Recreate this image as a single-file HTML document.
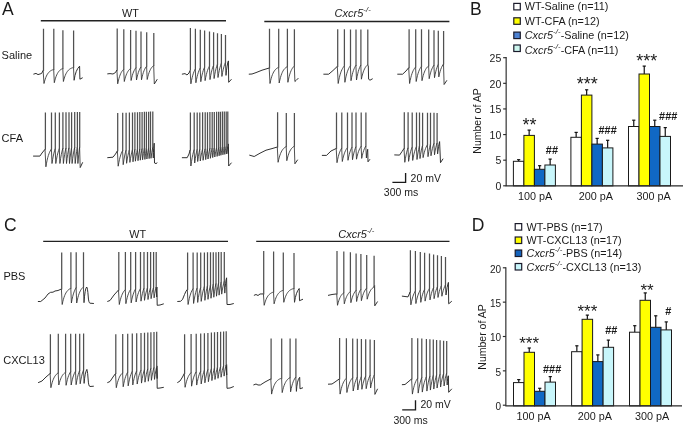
<!DOCTYPE html>
<html>
<head>
<meta charset="utf-8">
<style>
html,body{margin:0;padding:0;background:#fff;}
body{width:685px;height:426px;overflow:hidden;}
svg{display:block;}
text{font-family:"Liberation Sans",Arial,sans-serif;fill:#1a1a1a;}
.t{font-size:10.5px;}
.l{font-size:11px;}
.lg2{font-size:10.8px;}
.xl{font-size:10.8px;}
.hs{font-size:10.5px;font-weight:bold;}
.big{font-size:17.5px;}
.it{font-style:italic;}
.sup{font-size:7.6px;font-style:italic;letter-spacing:0.15px;}
.ast{font-size:18px;}
.tr path{fill:none;stroke:#262626;stroke-width:0.95;stroke-linejoin:round;stroke-linecap:butt;}
.tr path.md{stroke:#303030;stroke-width:0.85;}
.tr path.sp{stroke:#505050;stroke-width:1.25;}
.hl{stroke:#222;stroke-width:1.35;}
.sb{stroke:#1a1a1a;stroke-width:1.35;fill:none;}
.ax{stroke:#2a2a2a;stroke-width:1.15;fill:none;}
.eb{stroke:#111;stroke-width:1.2;}
.bar{stroke:#1a1a1a;stroke-width:1;}
.lg{stroke:#1a1a2a;stroke-width:1.2;}
</style>
</head>
<body>
<svg width="685" height="426" viewBox="0 0 685 426">
<!-- Panel A -->
<text x="2" y="14.8" class="big">A</text>
<text x="130.5" y="16.8" class="lg2" text-anchor="middle">WT</text>
<line x1="40.8" y1="20.75" x2="226" y2="20.75" class="hl"/>
<text x="334.6" y="16.9" class="l"><tspan class="it">Cxcr5</tspan><tspan class="sup" dy="-5">-/-</tspan></text>
<line x1="264.3" y1="21.45" x2="449.4" y2="21.45" class="hl"/>
<text x="1.6" y="59" class="l">Saline</text>
<text x="1.6" y="141.8" class="l">CFA</text>
<path d="M392.4,182.4 L405.6,182.4 L405.6,173" class="sb"/>
<text x="410.6" y="181.6" class="t">20 mV</text>
<text x="383.8" y="195.8" class="t">300 ms</text>

<!-- Panel C -->
<text x="4" y="231.3" class="big">C</text>
<text x="137.6" y="237.5" class="lg2" text-anchor="middle">WT</text>
<line x1="43.2" y1="241.35" x2="228" y2="241.35" class="hl"/>
<text x="338.2" y="237.7" class="l"><tspan class="it">Cxcr5</tspan><tspan class="sup" dy="-5">-/-</tspan></text>
<line x1="256.2" y1="241.35" x2="449.5" y2="241.35" class="hl"/>
<text x="3.4" y="279.6" class="l">PBS</text>
<text x="3.2" y="363.7" class="l">CXCL13</text>
<path d="M402.2,409.8 L415.5,409.8 L415.5,400.3" class="sb"/>
<text x="420.4" y="408" class="t">20 mV</text>
<text x="393.4" y="423.8" class="t">300 ms</text>

<g class="tr">
<path d="M33.4,74.2 L36,73.4 L38,74.6 L41.5,73.5 L43.1,70.5 M74.1,80.3 Q75.5,70 79.6,66.2 L79.9,79.2 L82.7,77.7"/><path class="md" d="M43.1,70.5 L44,83.5 L44.61,81.12 L45.21,79.13 L45.82,77.45 L46.42,76.03 L47.03,74.85 L47.64,73.85 L48.24,73.01 L48.85,72.3 L49.46,71.71 L50.06,71.21 L50.67,70.79 L51.28,70.43 L51.88,70.14 L52.49,69.89 L53.09,69.68 L53.7,69.5 L54.3,82.7 L54.91,80.22 L55.51,78.13 L56.12,76.38 L56.73,74.91 L57.34,73.67 L57.94,72.63 L58.55,71.75 L59.16,71.01 L59.76,70.4 L60.37,69.87 L60.98,69.44 L61.59,69.07 L62.19,68.76 L62.8,68.5 L63.4,81.5 L64.03,79.05 L64.66,77.01 L65.29,75.3 L65.92,73.88 L66.56,72.69 L67.19,71.7 L67.82,70.87 L68.45,70.18 L69.08,69.6 L69.71,69.11 L70.34,68.71 L70.97,68.38 L71.61,68.09 L72.24,67.86 L72.87,67.66 L73.5,67.5 L74.1,80.3"/><path class="sp" d="M43.5,71 L43.5,28.8 M53.8,70 L53.8,28.8 M62.9,69 L62.9,30.3 M73.6,68 L73.6,30.6"/>
<path d="M107.3,73.9 L110,73.6 L113,74 L115.5,72.5 L116.9,70 M154.3,84 L157.3,79.2"/><path class="md" d="M116.9,70 L117.7,83.8 L118.3,81 L118.9,78.65 L119.5,76.66 L120.1,74.99 L120.7,73.58 L121.3,72.4 L121.9,71.4 L122.5,70.56 L123.1,69.85 L123.7,69.25 L124.3,81.5 L124.92,78.96 L125.54,76.83 L126.16,75.04 L126.78,73.55 L127.4,72.3 L128.02,71.25 L128.64,70.37 L129.26,69.63 L129.88,69.02 L130.5,68.5 L131.1,80.5 L131.7,77.81 L132.3,75.54 L132.9,73.63 L133.5,72.02 L134.1,70.67 L134.7,69.52 L135.3,68.56 L135.9,67.75 L136.5,80 L137.13,77.01 L137.76,74.52 L138.39,72.43 L139.01,70.69 L139.64,69.23 L140.27,68.02 L140.9,67 L141.5,79.8 L142.14,76.86 L142.78,74.41 L143.41,72.36 L144.05,70.66 L144.69,69.24 L145.32,68.06 L145.96,67.07 L146.6,66.25 L147.2,79.5 L147.85,76.69 L148.5,74.35 L149.15,72.41 L149.8,70.8 L150.45,69.47 L151.1,68.35 L151.75,67.43 L152.4,66.66 L153.05,66.03 L153.7,65.5 L154.3,84"/><path class="sp" d="M117.2,70.5 L117.2,28.4 M123.8,69.75 L123.8,29.17 M130.6,69 L130.6,29.93 M136,68.25 L136,30.7 M141,67.5 L141,31.47 M146.7,66.75 L146.7,32.23 M153.8,66 L153.8,33"/>
<path d="M181.9,74.2 L185,73.6 L187,75 L189,73 L190.1,70.5 M226,75.4 Q227,64 228.4,60.9 L228.7,82.3 L231.5,79.2"/><path class="md" d="M190.1,70.5 L190.9,83.8 L191.53,80.41 L192.16,77.58 L192.79,75.22 L193.41,73.25 L194.04,71.59 L194.67,70.22 L195.3,69.06 L195.9,82.75 L196.51,79.42 L197.13,76.63 L197.74,74.29 L198.36,72.32 L198.97,70.67 L199.59,69.29 L200.2,68.12 L200.8,81.7 L201.42,78.11 L202.03,75.1 L202.65,72.57 L203.27,70.45 L203.88,68.68 L204.5,67.19 L205.1,80.65 L205.71,77.37 L206.33,74.62 L206.94,72.32 L207.56,70.38 L208.17,68.76 L208.79,67.39 L209.4,66.25 L210,79.6 L210.7,75.5 L211.4,72.15 L212.1,69.4 L212.8,67.15 L213.5,65.31 L214.1,78.55 L214.76,74.56 L215.42,71.25 L216.08,68.52 L216.74,66.25 L217.4,64.38 L218,77.5 L218.66,73.54 L219.32,70.26 L219.98,67.55 L220.64,65.3 L221.3,63.44 L221.9,76.45 L222.6,72.45 L223.3,69.17 L224,66.49 L224.7,64.3 L225.4,62.5 L226,75.4"/><path class="sp" d="M190.4,70.5 L190.4,28 M195.4,69.56 L195.4,28.86 M200.3,68.62 L200.3,29.73 M204.6,67.69 L204.6,30.59 M209.5,66.75 L209.5,31.45 M213.6,65.81 L213.6,32.31 M217.5,64.88 L217.5,33.17 M221.4,63.94 L221.4,34.04 M225.5,63 L225.5,34.9"/>
<path d="M248.8,74.2 L252,74 L256,72.6 L262,70.2 L269.2,68 M294.9,81.5 L296,80.5 L298.4,78.1"/><path class="md" d="M269.2,68 L270,83.5 L270.61,80.65 L271.23,78.27 L271.84,76.26 L272.46,74.58 L273.07,73.17 L273.69,71.99 L274.3,70.99 L274.91,70.16 L275.53,69.46 L276.14,68.88 L276.76,68.38 L277.37,67.97 L277.99,67.62 L278.6,67.33 L279.2,83 L279.82,80.04 L280.45,77.57 L281.07,75.5 L281.69,73.77 L282.32,72.32 L282.94,71.1 L283.56,70.09 L284.18,69.24 L284.81,68.53 L285.43,67.93 L286.05,67.43 L286.68,67.02 L287.3,66.67 L287.9,82.3 L288.54,79.05 L289.18,76.35 L289.82,74.1 L290.46,72.23 L291.1,70.66 L291.74,69.36 L292.38,68.28 L293.02,67.38 L293.66,66.63 L294.3,66 L294.9,81.5"/><path class="sp" d="M269.5,68.5 L269.5,28.8 M278.7,67.83 L278.7,28.8 M287.4,67.17 L287.4,28.8 M294.4,66.5 L294.4,29.3"/>
<path d="M323.4,74.2 L328.7,74.2 L333,70.5 L337.3,66.4 M368.3,66 L368.6,79.2 L370,80.2 L372.7,78.7"/><path class="md" d="M337.3,66.4 L338.2,83.5 L338.81,80.12 L339.42,77.28 L340.03,74.89 L340.64,72.89 L341.25,71.2 L341.86,69.79 L342.47,68.6 L343.08,67.6 L343.69,66.76 L344.3,66.06 L344.9,82.3 L345.51,78.95 L346.12,76.13 L346.73,73.77 L347.34,71.78 L347.96,70.11 L348.57,68.71 L349.18,67.54 L349.79,66.55 L350.4,65.72 L351,80.7 L351.61,77.44 L352.23,74.7 L352.84,72.39 L353.45,70.46 L354.06,68.84 L354.67,67.48 L355.29,66.34 L355.9,65.38 L356.5,80 L357.11,76.6 L357.73,73.74 L358.34,71.34 L358.96,69.33 L359.57,67.64 L360.19,66.23 L360.8,65.04 L361.4,79.2 L362.03,76.34 L362.66,73.95 L363.29,71.95 L363.92,70.28 L364.55,68.89 L365.18,67.73 L365.81,66.76 L366.44,65.94 L367.07,65.27 L367.7,64.7 L368.3,66"/><path class="sp" d="M337.7,66.9 L337.7,29.3 M344.4,66.56 L344.4,29.36 M350.5,66.22 L350.5,29.42 M356,65.88 L356,29.48 M360.9,65.54 L360.9,29.54 M367.8,65.2 L367.8,29.6"/>
<path d="M397.3,74.2 L402.6,74.2 L406,71 L408.7,67.7 M444.1,84.5 L446.9,80.3"/><path class="md" d="M408.7,67.7 L409.6,83.5 L410.2,80.35 L410.8,77.69 L411.4,75.45 L412,73.56 L412.6,71.97 L413.2,70.64 L413.8,69.51 L414.4,68.56 L415,67.76 L415.6,67.08 L416.2,81.5 L416.85,78.21 L417.5,75.47 L418.15,73.2 L418.8,71.31 L419.45,69.75 L420.1,68.44 L420.75,67.36 L421.4,66.47 L422,80.7 L422.6,77.94 L423.2,75.62 L423.8,73.66 L424.4,72.01 L425,70.62 L425.6,69.45 L426.2,68.47 L426.8,67.64 L427.4,66.94 L428,66.35 L428.6,65.85 L429.2,78.7 L429.87,75.52 L430.54,72.89 L431.21,70.72 L431.89,68.94 L432.56,67.46 L433.23,66.24 L433.9,65.23 L434.5,77.7 L435.12,74.46 L435.73,71.75 L436.35,69.47 L436.97,67.56 L437.58,65.96 L438.2,64.62 L438.8,76.9 L439.47,73.85 L440.14,71.34 L440.81,69.26 L441.49,67.55 L442.16,66.13 L442.83,64.96 L443.5,64 L444.1,84.5"/><path class="sp" d="M409.1,68.2 L409.1,29.3 M415.7,67.58 L415.7,29.3 M421.5,66.97 L421.5,29.3 M428.7,66.35 L428.7,29.6 M434,65.73 L434,30.3 M438.3,65.12 L438.3,30.8 M443.6,64.5 L443.6,31.1"/>
<path d="M33.1,156.1 L39.9,156.1 L42,153 L45,149.3 M80.2,167.6 L82.7,162.3"/><path class="md" d="M45,149.3 L45.9,166.8 L46.51,163.21 L47.12,160.2 L47.73,157.68 L48.34,155.55 L48.96,153.77 L49.57,152.27 L50.18,151.01 L50.79,149.96 L51.4,149.07 L52,163.5 L52.64,159.41 L53.28,156.01 L53.92,153.17 L54.56,150.81 L55.2,148.84 L55.8,163.5 L56.5,159.23 L57.2,155.73 L57.9,152.87 L58.6,150.53 L59.3,148.61 L59.9,163.5 L60.62,158.48 L61.35,154.4 L62.07,151.08 L62.8,148.38 L63.4,163.5 L64.03,158.58 L64.65,154.47 L65.28,151.03 L65.9,148.15 L66.5,163.5 L67.1,158.55 L67.7,154.39 L68.3,150.88 L68.9,147.92 L69.5,163.5 L70.17,157.2 L70.83,151.99 L71.5,147.69 L72.1,163.5 L72.72,158.36 L73.35,154.06 L73.97,150.47 L74.6,147.46 L75.2,163.5 L75.9,156.96 L76.6,151.61 L77.3,147.23 L77.9,163.5 L78.75,154.25 L79.6,147 L80.2,167.6"/><path class="sp" d="M45.4,149.8 L45.4,112.6 M51.5,149.57 L51.5,112.54 M55.3,149.34 L55.3,112.48 M59.4,149.11 L59.4,112.42 M62.9,148.88 L62.9,112.36 M66,148.65 L66,112.3 M69,148.42 L69,112.24 M71.6,148.19 L71.6,112.18 M74.7,147.96 L74.7,112.12 M77.4,147.73 L77.4,112.06 M79.7,147.5 L79.7,112"/>
<path d="M107.3,157.7 L113,157.2 L115.5,154 L117.4,150.8 M153.3,158 Q153.6,146 154.2,143.2 L154.5,163 L156,163.6 L157.3,162.7"/><path class="md" d="M117.4,150.8 L118.2,166.2 L118.83,162.6 L119.46,159.6 L120.09,157.09 L120.71,154.99 L121.34,153.24 L121.97,151.77 L122.6,150.55 L123.2,164.7 L123.9,159.96 L124.6,156.07 L125.3,152.9 L126,150.29 L126.6,163.3 L127.28,158.97 L127.95,155.41 L128.62,152.46 L129.3,150.04 L129.9,162.4 L130.53,158.36 L131.15,154.98 L131.78,152.15 L132.4,149.78 L133,161.8 L133.6,156.99 L134.2,152.94 L134.8,149.53 L135.4,161.2 L136.07,156.45 L136.73,152.52 L137.4,149.28 L138,160.7 L138.85,154.16 L139.7,149.02 L140.3,160.2 L141.15,153.79 L142,148.77 L142.6,159.8 L143.45,153.48 L144.3,148.52 L144.9,159.4 L145.6,153.28 L146.3,148.26 L146.9,159 L147.7,152.88 L148.5,148.01 L149.1,158.6 L149.75,152.67 L150.4,147.75 L151,158.3 L151.85,152.25 L152.7,147.5 L153.3,158"/><path class="sp" d="M117.7,151.3 L117.7,112.9 M122.7,151.05 L122.7,112.78 M126.1,150.79 L126.1,112.67 M129.4,150.54 L129.4,112.55 M132.5,150.28 L132.5,112.44 M134.9,150.03 L134.9,112.32 M137.5,149.78 L137.5,112.21 M139.8,149.52 L139.8,112.09 M142.1,149.27 L142.1,111.98 M144.4,149.02 L144.4,111.86 M146.4,148.76 L146.4,111.75 M148.6,148.51 L148.6,111.63 M150.5,148.25 L150.5,111.52 M152.8,148 L152.8,111.4"/>
<path d="M181.9,157.7 L187.2,157.7 L189,154 L190.1,150 M228.3,153.6 Q228.1,146 228.4,143.9 L228.7,166 L231.5,162.7"/><path class="md" d="M190.1,150 L190.9,166 L191.54,161.48 L192.18,157.71 L192.82,154.57 L193.46,151.96 L194.1,149.78 L194.7,163 L195.3,158.73 L195.9,155.14 L196.5,152.11 L197.1,149.56 L197.7,161.5 L198.37,156.66 L199.03,152.65 L199.7,149.34 L200.3,161 L201.03,156.19 L201.77,152.29 L202.5,149.12 L203.1,160.3 L203.77,155.76 L204.43,152.01 L205.1,148.91 L205.7,159.6 L206.55,153.48 L207.4,148.69 L208,159 L208.6,154.87 L209.2,151.4 L209.8,148.47 L210.4,158.3 L211.25,152.67 L212.1,148.25 L212.7,157.6 L213.45,152.3 L214.2,148.03 L214.8,157 L215.65,151.85 L216.5,147.81 L217.1,156.4 L217.8,151.56 L218.5,147.59 L219.1,155.8 L219.7,151.23 L220.3,147.38 L220.9,155.3 L221.6,150.82 L222.3,147.16 L222.9,154.8 L223.55,150.5 L224.2,146.94 L224.8,154.4 L225.45,150.2 L226.1,146.72 L226.7,154 L227.2,149.98 L227.7,146.5 L228.3,153.6"/><path class="sp" d="M190.4,150.5 L190.4,112.6 M194.2,150.28 L194.2,112.52 M197.2,150.06 L197.2,112.45 M199.8,149.84 L199.8,112.38 M202.6,149.62 L202.6,112.3 M205.2,149.41 L205.2,112.22 M207.5,149.19 L207.5,112.15 M209.9,148.97 L209.9,112.08 M212.2,148.75 L212.2,112 M214.3,148.53 L214.3,111.92 M216.6,148.31 L216.6,111.85 M218.6,148.09 L218.6,111.78 M220.4,147.88 L220.4,111.7 M222.4,147.66 L222.4,111.62 M224.3,147.44 L224.3,111.55 M226.2,147.22 L226.2,111.48 M227.8,147 L227.8,111.4"/>
<path d="M249.3,155.1 L254.2,156.5 L260,153.2 L266,150.2 L272,148.6 L277.3,147 M294.9,163.8 L297.7,159.7"/><path class="md" d="M277.3,147 L278.1,162.3 L278.72,159.46 L279.35,157.08 L279.97,155.09 L280.59,153.43 L281.22,152.03 L281.84,150.87 L282.46,149.89 L283.08,149.07 L283.71,148.39 L284.33,147.82 L284.95,147.34 L285.58,146.94 L286.2,146.6 L286.8,160.7 L287.43,158.01 L288.05,155.77 L288.68,153.89 L289.3,152.31 L289.93,151 L290.55,149.9 L291.18,148.98 L291.8,148.21 L292.43,147.57 L293.05,147.03 L293.68,146.58 L294.3,146.2 L294.9,163.8"/><path class="sp" d="M277.6,147.5 L277.6,112.3 M286.3,147.1 L286.3,112.9 M294.4,146.7 L294.4,112.9"/>
<path d="M321.9,155.4 L326.5,155.4 L331,151 L336.2,148.5 M366.4,158 Q367,151 367.7,149.3 L368,161.8 L370,159.2"/><path class="md" d="M336.2,148.5 L337,162.7 L337.67,159.25 L338.34,156.4 L339.01,154.04 L339.69,152.1 L340.36,150.5 L341.03,149.18 L341.7,148.08 L342.3,161.5 L342.94,158.5 L343.57,155.99 L344.21,153.91 L344.85,152.17 L345.49,150.72 L346.12,149.51 L346.76,148.51 L347.4,147.67 L348,160.3 L348.65,157.01 L349.3,154.27 L349.95,152 L350.6,150.12 L351.25,148.55 L351.9,147.25 L352.5,159.7 L353.18,156.04 L353.86,153.03 L354.54,150.56 L355.22,148.51 L355.9,146.83 L356.5,159.2 L357.16,156.21 L357.81,153.73 L358.47,151.67 L359.13,149.97 L359.79,148.56 L360.44,147.39 L361.1,146.42 L361.7,158.4 L362.38,155.21 L363.07,152.59 L363.75,150.43 L364.43,148.66 L365.12,147.2 L365.8,146 L366.4,158"/><path class="sp" d="M336.5,149 L336.5,112.6 M341.8,148.58 L341.8,112.6 M347.5,148.17 L347.5,112.6 M352,147.75 L352,112.6 M356,147.33 L356,112.6 M361.2,146.92 L361.2,112.6 M365.9,146.5 L365.9,112.6"/>
<path d="M394.3,154.9 L399.6,155.1 L402,151.5 L404,148.5 M437.6,153.9 Q438.5,145 439.6,141.6 L440.5,162.7 L443.1,158.7"/><path class="md" d="M404,148.5 L404.8,162.3 L405.44,158.28 L406.08,154.93 L406.72,152.15 L407.36,149.82 L408,147.89 L408.6,161.37 L409.3,157.33 L410,154.02 L410.7,151.31 L411.4,149.09 L412.1,147.28 L412.7,160.43 L413.32,157.03 L413.93,154.17 L414.55,151.77 L415.17,149.76 L415.78,148.08 L416.4,146.67 L417,159.5 L417.8,153.96 L418.6,149.56 L419.4,146.06 L420,158.57 L420.62,154.36 L421.25,150.85 L421.88,147.9 L422.5,145.44 L423.1,157.63 L423.71,154.72 L424.33,152.28 L424.94,150.23 L425.56,148.5 L426.17,147.06 L426.79,145.85 L427.4,144.83 L428,156.7 L428.8,151.56 L429.6,147.47 L430.4,144.22 L431,155.77 L431.73,151.73 L432.45,148.45 L433.17,145.78 L433.9,143.61 L434.5,154.83 L435.12,151.04 L435.75,147.87 L436.38,145.22 L437,143 L437.6,153.9"/><path class="sp" d="M404.3,149 L404.3,112.3 M408.1,148.39 L408.1,112.37 M412.2,147.78 L412.2,112.43 M416.5,147.17 L416.5,112.5 M419.5,146.56 L419.5,112.57 M422.6,145.94 L422.6,112.63 M427.5,145.33 L427.5,112.7 M430.5,144.72 L430.5,112.77 M434,144.11 L434,112.83 M437.1,143.5 L437.1,112.9"/>
<path d="M37.9,301.5 L40.7,301.5 L45,298 L48,294 L50.6,292.3 L53,292.2 L55,291 L58,290.5 L61.4,289 M84,302.7 Q85,288 86.7,287 Q87.6,288 88.2,296 Q88.6,303 90,303.2 L93.9,303.5"/><path class="md" d="M61.4,289 L62.2,304.5 L62.81,301.65 L63.43,299.27 L64.04,297.26 L64.66,295.58 L65.27,294.17 L65.89,292.99 L66.5,291.99 L67.11,291.16 L67.73,290.46 L68.34,289.88 L68.96,289.38 L69.57,288.97 L70.19,288.62 L70.8,288.33 L71.4,303 L72.07,299.38 L72.74,296.39 L73.41,293.92 L74.09,291.88 L74.76,290.2 L75.43,288.81 L76.1,287.67 L76.7,303 L77.31,300 L77.92,297.48 L78.53,295.37 L79.14,293.59 L79.75,292.09 L80.35,290.84 L80.96,289.78 L81.57,288.9 L82.18,288.15 L82.79,287.53 L83.4,287 L84,302.7"/><path class="sp" d="M61.7,289.5 L61.7,252.6 M70.9,288.83 L70.9,252.3 M76.2,288.17 L76.2,252.3 M83.5,287.5 L83.5,252.3"/>
<path d="M107.3,301.5 L110,300.5 L114,295 L118.5,290 M156.7,297 Q156.5,289 156.9,287 L157.2,305.3 L160,305 L163.8,303.8"/><path class="md" d="M118.5,290 L119.3,304.5 L119.9,301.65 L120.5,299.25 L121.1,297.23 L121.7,295.52 L122.3,294.09 L122.9,292.88 L123.5,291.86 L124.1,291 L124.7,290.28 L125.3,289.67 L125.9,303.67 L126.57,300.28 L127.24,297.49 L127.91,295.18 L128.59,293.27 L129.26,291.7 L129.93,290.4 L130.6,289.33 L131.2,302.83 L131.81,299.69 L132.43,297.04 L133.04,294.83 L133.66,292.97 L134.27,291.41 L134.89,290.1 L135.5,289 L136.1,302 L136.71,298.97 L137.33,296.42 L137.94,294.28 L138.56,292.49 L139.17,290.99 L139.79,289.73 L140.4,288.67 L141,301.17 L141.72,296.9 L142.45,293.44 L143.18,290.62 L143.9,288.33 L144.5,300.33 L145.22,296.24 L145.95,292.91 L146.68,290.2 L147.4,288 L148,299.5 L148.62,295.71 L149.25,292.54 L149.88,289.89 L150.5,287.67 L151.1,298.67 L151.7,295.07 L152.3,292.04 L152.9,289.48 L153.5,287.33 L154.1,297.83 L154.77,293.52 L155.43,289.95 L156.1,287 L156.7,297"/><path class="sp" d="M118.8,290.5 L118.8,252 M125.4,290.17 L125.4,252 M130.7,289.83 L130.7,252 M135.6,289.5 L135.6,252 M140.5,289.17 L140.5,252 M144,288.83 L144,252 M147.5,288.5 L147.5,252 M150.6,288.17 L150.6,252 M153.6,287.83 L153.6,252 M156.2,287.5 L156.2,252"/>
<path d="M177.3,301.5 L180.5,301.3 L182.5,299.5 L184.5,294.5 L186,291.2 L187.3,289.5 M224.8,293.1 Q225.5,281 226.6,277.8 L227,304.5 L230,304.5 L233.8,303.5"/><path class="md" d="M187.3,289.5 L188.1,304.5 L188.71,301.15 L189.32,298.34 L189.94,295.97 L190.55,293.99 L191.16,292.33 L191.78,290.93 L192.39,289.76 L193,288.77 L193.6,303.46 L194.3,299.04 L195,295.42 L195.7,292.46 L196.4,290.03 L197.1,288.05 L197.7,302.43 L198.42,297.41 L199.15,293.33 L199.88,290.01 L200.6,287.32 L201.2,301.39 L201.82,297.3 L202.44,293.88 L203.06,291.01 L203.68,288.6 L204.3,286.59 L204.9,300.35 L205.53,295.71 L206.15,291.83 L206.78,288.58 L207.4,285.86 L208,299.32 L208.6,294.82 L209.2,291.02 L209.8,287.83 L210.4,285.14 L211,298.28 L211.73,292.66 L212.47,288.1 L213.2,284.41 L213.8,297.25 L214.5,291.8 L215.2,287.33 L215.9,283.68 L216.5,296.21 L217.17,290.93 L217.83,286.56 L218.5,282.95 L219.1,295.17 L219.77,290.01 L220.43,285.75 L221.1,282.23 L221.7,294.14 L222.32,290.09 L222.95,286.7 L223.57,283.87 L224.2,281.5 L224.8,293.1"/><path class="sp" d="M187.6,290 L187.6,252.6 M193.1,289.27 L193.1,252.55 M197.2,288.55 L197.2,252.49 M200.7,287.82 L200.7,252.44 M204.4,287.09 L204.4,252.38 M207.5,286.36 L207.5,252.33 M210.5,285.64 L210.5,252.27 M213.3,284.91 L213.3,252.22 M216,284.18 L216,252.16 M218.6,283.45 L218.6,252.11 M221.2,282.73 L221.2,252.05 M224.3,282 L224.3,252"/>
<path d="M253.9,295.4 L256,294.5 L258,295.5 L260,294 L263.4,293.9 M294.5,302.3 Q296,292 299.2,288.5 L299.5,300.7 L303,299.2"/><path class="md" d="M263.4,293.9 L264.2,305.3 L264.82,303 L265.44,301.07 L266.06,299.45 L266.68,298.09 L267.3,296.96 L267.92,296.01 L268.54,295.21 L269.16,294.55 L269.78,293.99 L270.4,293.52 L271.02,293.13 L271.64,292.8 L272.26,292.52 L272.88,292.29 L273.5,292.1 L274.1,303.8 L274.71,301.48 L275.31,299.53 L275.92,297.89 L276.53,296.51 L277.13,295.35 L277.74,294.37 L278.35,293.55 L278.95,292.86 L279.56,292.28 L280.17,291.79 L280.77,291.38 L281.38,291.04 L281.99,290.75 L282.59,290.5 L283.2,290.3 L283.8,302.3 L284.43,299.89 L285.06,297.87 L285.69,296.19 L286.32,294.79 L286.96,293.62 L287.59,292.64 L288.22,291.82 L288.85,291.14 L289.48,290.57 L290.11,290.09 L290.74,289.69 L291.38,289.36 L292.01,289.09 L292.64,288.85 L293.27,288.66 L293.9,288.5 L294.5,302.3"/><path class="sp" d="M263.7,294.4 L263.7,251.1 M273.6,292.6 L273.6,251.4 M283.3,290.8 L283.3,252.6 M294,289 L294,252.9"/>
<path d="M328,295.4 L332,294.5 L336.7,293.9 M374.6,285.5 L374.8,305.8 L377.6,301.5"/><path class="md" d="M336.7,293.9 L337.5,305.3 L338.12,302.85 L338.74,300.79 L339.36,299.07 L339.98,297.62 L340.6,296.41 L341.22,295.4 L341.84,294.55 L342.46,293.84 L343.08,293.25 L343.7,292.75 L344.3,303.8 L344.9,301.46 L345.5,299.48 L346.1,297.82 L346.7,296.42 L347.3,295.23 L347.9,294.24 L348.5,293.4 L349.1,292.7 L349.7,292.1 L350.3,291.6 L350.9,302.7 L351.54,300.04 L352.18,297.82 L352.81,295.98 L353.45,294.44 L354.09,293.15 L354.73,292.08 L355.36,291.19 L356,290.45 L356.6,301.5 L357.3,298.34 L358,295.74 L358.7,293.62 L359.4,291.89 L360.1,290.46 L360.8,289.3 L361.4,300.7 L362.05,297.95 L362.7,295.67 L363.35,293.77 L364,292.2 L364.65,290.89 L365.3,289.8 L365.95,288.9 L366.6,288.15 L367.2,299.2 L367.82,296.89 L368.44,294.96 L369.05,293.34 L369.67,291.99 L370.29,290.85 L370.91,289.89 L371.53,289.1 L372.15,288.43 L372.76,287.86 L373.38,287.39 L374,287 L374.6,285.5"/><path class="sp" d="M337,294.4 L337,251.1 M343.8,293.25 L343.8,251.4 M350.4,292.1 L350.4,252.3 M356.1,290.95 L356.1,253.4 M360.9,289.8 L360.9,253.9 M366.7,288.65 L366.7,254.9 M374.1,287.5 L374.1,255.7"/>
<path d="M401.9,296.1 L408,296.9 L410.1,292 M446,295 Q447,286 448.4,282.4 L448.7,303.8 L451.8,301.2"/><path class="md" d="M410.1,292 L410.9,304.8 L411.53,301.66 L412.16,299.03 L412.79,296.84 L413.41,295.01 L414.04,293.47 L414.67,292.19 L415.3,291.12 L415.9,303.57 L416.51,300.54 L417.13,298 L417.74,295.86 L418.36,294.07 L418.97,292.57 L419.59,291.31 L420.2,290.25 L420.8,302.35 L421.42,299.14 L422.03,296.44 L422.65,294.19 L423.27,292.29 L423.88,290.71 L424.5,289.38 L425.1,301.12 L425.71,298.25 L426.33,295.84 L426.94,293.82 L427.56,292.12 L428.17,290.7 L428.79,289.5 L429.4,288.5 L430,299.9 L430.7,296.38 L431.4,293.5 L432.1,291.14 L432.8,289.21 L433.5,287.62 L434.1,298.68 L434.76,295.32 L435.42,292.54 L436.08,290.24 L436.74,288.33 L437.4,286.75 L438,297.45 L438.66,294.19 L439.32,291.49 L439.98,289.26 L440.64,287.41 L441.3,285.88 L441.9,296.23 L442.6,293.01 L443.3,290.37 L444,288.21 L444.7,286.45 L445.4,285 L446,295"/><path class="sp" d="M410.4,292.5 L410.4,250.3 M415.4,291.62 L415.4,251.12 M420.3,290.75 L420.3,251.95 M424.6,289.88 L424.6,252.78 M429.5,289 L429.5,253.6 M433.6,288.12 L433.6,254.42 M437.5,287.25 L437.5,255.25 M441.4,286.38 L441.4,256.07 M445.5,285.5 L445.5,256.9"/>
<path d="M38.1,382.7 L42,381 L46,377 L50.1,373.5 M84.1,383.4 Q85,372 86.9,369.4 Q87.7,372 88.2,380 Q88.6,386.5 90,386.5 L93.8,386.2"/><path class="md" d="M50.1,373.5 L50.9,387.7 L51.51,385.01 L52.12,382.74 L52.73,380.84 L53.33,379.24 L53.94,377.9 L54.55,376.77 L55.16,375.82 L55.77,375.02 L56.38,374.35 L56.98,373.79 L57.59,373.31 L58.2,372.92 L58.8,385 L59.41,382.63 L60.02,380.63 L60.63,378.96 L61.24,377.55 L61.85,376.37 L62.45,375.37 L63.06,374.54 L63.67,373.84 L64.28,373.25 L64.89,372.75 L65.5,372.33 L66.1,385.3 L66.74,382.16 L67.39,379.54 L68.03,377.37 L68.67,375.56 L69.31,374.05 L69.96,372.79 L70.6,371.75 L71.2,385 L71.81,381.85 L72.43,379.21 L73.04,376.99 L73.66,375.13 L74.27,373.57 L74.89,372.27 L75.5,371.17 L76.1,384.7 L76.8,380.65 L77.5,377.34 L78.2,374.62 L78.9,372.4 L79.6,370.58 L80.2,383.8 L80.86,379.92 L81.52,376.7 L82.18,374.03 L82.84,371.83 L83.5,370 L84.1,383.4"/><path class="sp" d="M50.4,374 L50.4,334.3 M58.3,373.42 L58.3,333.8 M65.6,372.83 L65.6,333.8 M70.7,372.25 L70.7,333.8 M75.6,371.67 L75.6,333.8 M79.7,371.08 L79.7,333.8 M83.6,370.5 L83.6,333.4"/>
<path d="M107.3,382.7 L110,381.5 L113,377 L115.5,373.5 M157.2,378.5 L156.9,365.9 L157.2,388.3 L160,388 L163.8,387.3"/><path class="md" d="M115.5,373.5 L116.3,387.7 L116.93,384.77 L117.56,382.32 L118.19,380.28 L118.82,378.57 L119.45,377.14 L120.08,375.95 L120.71,374.96 L121.34,374.12 L121.97,373.43 L122.6,372.85 L123.2,386.78 L123.83,383.43 L124.46,380.63 L125.09,378.29 L125.71,376.34 L126.34,374.7 L126.97,373.34 L127.6,372.2 L128.2,385.86 L128.87,382.22 L129.53,379.2 L130.2,376.71 L130.87,374.66 L131.53,372.96 L132.2,371.55 L132.8,384.94 L133.43,381.43 L134.07,378.5 L134.7,376.06 L135.33,374.02 L135.97,372.32 L136.6,370.9 L137.2,384.02 L137.82,380.61 L138.43,377.75 L139.05,375.36 L139.67,373.35 L140.28,371.66 L140.9,370.25 L141.5,383.1 L142.22,378.62 L142.95,374.97 L143.68,372.01 L144.4,369.6 L145,382.18 L145.68,377.86 L146.35,374.3 L147.02,371.37 L147.7,368.95 L148.3,381.26 L148.92,377.11 L149.55,373.64 L150.18,370.73 L150.8,368.3 L151.4,380.34 L152.03,376.27 L152.65,372.87 L153.28,370.03 L153.9,367.65 L154.5,379.42 L155.2,374.43 L155.9,370.34 L156.6,367 L157.2,378.5"/><path class="sp" d="M115.8,374 L115.8,334.3 M122.7,373.35 L122.7,334.05 M127.7,372.7 L127.7,333.8 M132.3,372.05 L132.3,333.55 M136.7,371.4 L136.7,333.3 M141,370.75 L141,333.05 M144.5,370.1 L144.5,332.8 M147.8,369.45 L147.8,332.55 M150.9,368.8 L150.9,332.3 M154,368.15 L154,332.05 M156.7,367.5 L156.7,331.8"/>
<path d="M177.3,382.7 L180,381 L182.5,377 L184.3,373.5 M226.7,375 L226.6,364.4 L227,388.3 L230,388 L233.8,386.5"/><path class="md" d="M184.3,373.5 L185.1,387.3 L185.76,384.24 L186.41,381.71 L187.07,379.61 L187.72,377.87 L188.38,376.42 L189.03,375.23 L189.69,374.23 L190.34,373.41 L191,372.73 L191.6,386.18 L192.24,382.88 L192.89,380.14 L193.53,377.85 L194.17,375.95 L194.81,374.37 L195.46,373.05 L196.1,371.95 L196.7,385.06 L197.35,381.56 L198,378.65 L198.65,376.24 L199.3,374.23 L199.95,372.57 L200.6,371.18 L201.2,383.95 L201.82,380.21 L202.44,377.07 L203.06,374.45 L203.68,372.25 L204.3,370.41 L204.9,382.83 L205.62,378.45 L206.35,374.88 L207.08,371.99 L207.8,369.64 L208.4,381.71 L209.12,377.44 L209.85,373.97 L210.58,371.16 L211.3,368.86 L211.9,380.59 L212.53,376.59 L213.15,373.24 L213.78,370.43 L214.4,368.09 L215,379.47 L215.6,375.61 L216.2,372.36 L216.8,369.63 L217.4,367.32 L218,378.35 L218.62,374.57 L219.25,371.41 L219.88,368.76 L220.5,366.55 L221.1,377.24 L221.7,373.6 L222.3,370.53 L222.9,367.95 L223.5,365.77 L224.1,376.12 L224.77,371.69 L225.43,368.03 L226.1,365 L226.7,375"/><path class="sp" d="M184.6,374 L184.6,334.3 M191.1,373.23 L191.1,334.02 M196.2,372.45 L196.2,333.74 M200.7,371.68 L200.7,333.45 M204.4,370.91 L204.4,333.17 M207.9,370.14 L207.9,332.89 M211.4,369.36 L211.4,332.61 M214.5,368.59 L214.5,332.33 M217.5,367.82 L217.5,332.05 M220.6,367.05 L220.6,331.76 M223.6,366.27 L223.6,331.48 M226.2,365.5 L226.2,331.2"/>
<path d="M253.4,385 L256,384 L258,385 L260.3,385 L265,382 L270.8,378.9 M296.4,391.4 Q297,380 299.7,377.3 L300,388.8 L303,387.7"/><path class="md" d="M270.8,378.9 L271.6,394.1 L272.23,391.35 L272.85,389.06 L273.48,387.13 L274.1,385.53 L274.73,384.18 L275.35,383.06 L275.98,382.11 L276.6,381.33 L277.23,380.67 L277.85,380.12 L278.48,379.66 L279.1,379.27 L279.73,378.95 L280.35,378.68 L280.98,378.46 L281.6,378.27 L282.2,392.6 L282.85,389.76 L283.5,387.4 L284.15,385.44 L284.8,383.81 L285.45,382.45 L286.1,381.33 L286.75,380.4 L287.4,379.62 L288.05,378.98 L288.7,378.45 L289.35,378 L290,377.63 L290.6,391.8 L291.25,388.56 L291.9,385.86 L292.55,383.63 L293.2,381.77 L293.85,380.23 L294.5,378.95 L295.15,377.88 L295.8,377 L296.4,391.4"/><path class="sp" d="M271.1,379.4 L271.1,338.4 M281.7,378.77 L281.7,338.4 M290.1,378.13 L290.1,338.4 M295.9,377.5 L295.9,338.4"/>
<path d="M328,384.2 L332,384 L335,382 L339.3,378.9 M374.9,394.4 L377.6,388.8"/><path class="md" d="M339.3,378.9 L340.1,394.1 L340.72,391.02 L341.34,388.44 L341.96,386.27 L342.58,384.46 L343.2,382.94 L343.82,381.67 L344.44,380.61 L345.06,379.72 L345.68,378.97 L346.3,378.34 L346.9,392.5 L347.53,389.47 L348.17,386.94 L348.8,384.83 L349.43,383.07 L350.07,381.6 L350.7,380.38 L351.33,379.35 L351.97,378.5 L352.6,377.79 L353.2,391 L353.87,387.49 L354.53,384.59 L355.2,382.2 L355.87,380.22 L356.53,378.58 L357.2,377.23 L357.8,390 L358.5,386.18 L359.2,383.05 L359.9,380.49 L360.6,378.39 L361.3,376.67 L361.9,389.3 L362.52,386.04 L363.13,383.3 L363.75,381 L364.37,379.08 L364.98,377.47 L365.6,376.11 L366.2,388.7 L366.83,385.42 L367.47,382.67 L368.1,380.39 L368.73,378.48 L369.37,376.89 L370,375.56 L370.6,388 L371.22,384.78 L371.83,382.08 L372.45,379.82 L373.07,377.92 L373.68,376.33 L374.3,375 L374.9,394.4"/><path class="sp" d="M339.6,379.4 L339.6,337.9 M346.4,378.84 L346.4,338.19 M352.7,378.29 L352.7,338.47 M357.3,377.73 L357.3,338.76 M361.4,377.17 L361.4,339.04 M365.7,376.61 L365.7,339.33 M370.1,376.06 L370.1,339.61 M374.4,375.5 L374.4,339.9"/>
<path d="M401.9,384.7 L405,384.5 L408,382 L411.6,378.9 M447.2,385 Q447.5,377 448.4,375.8 L448.7,392.3 L451.8,388.8"/><path class="md" d="M411.6,378.9 L412.4,394.1 L413.05,390.63 L413.7,387.74 L414.35,385.35 L415,383.36 L415.65,381.7 L416.3,380.33 L416.95,379.19 L417.6,378.24 L418.2,393.09 L418.9,388.64 L419.6,385 L420.3,382.03 L421,379.59 L421.7,377.59 L422.3,392.08 L422.97,388.22 L423.63,385.03 L424.3,382.4 L424.97,380.22 L425.63,378.42 L426.3,376.93 L426.9,391.07 L427.62,386.15 L428.35,382.16 L429.08,378.92 L429.8,376.28 L430.4,390.06 L431.1,385.3 L431.8,381.41 L432.5,378.23 L433.2,375.62 L433.8,389.04 L434.48,384.45 L435.15,380.66 L435.82,377.54 L436.5,374.97 L437.1,388.03 L437.83,383.48 L438.55,379.77 L439.27,376.76 L440,374.31 L440.6,387.02 L441.33,382.58 L442.05,378.97 L442.77,376.04 L443.5,373.66 L444.1,386.01 L444.73,381.84 L445.35,378.36 L445.98,375.44 L446.6,373 L447.2,385"/><path class="sp" d="M411.9,379.4 L411.9,337.9 M417.7,378.74 L417.7,338.24 M421.8,378.09 L421.8,338.59 M426.4,377.43 L426.4,338.93 M429.9,376.78 L429.9,339.28 M433.3,376.12 L433.3,339.62 M436.6,375.47 L436.6,339.97 M440.1,374.81 L440.1,340.31 M443.6,374.16 L443.6,340.66 M446.7,373.5 L446.7,341"/>
</g>

<!-- Panel B -->
<text x="470" y="14.6" class="big">B</text>
<rect x="513.8" y="3.4" width="6.5" height="6.5" fill="#fff" class="lg"/>
<rect x="513.8" y="17.8" width="6.5" height="6.5" fill="#ffff00" class="lg"/>
<rect x="513.8" y="32.1" width="6.5" height="6.5" fill="#4d82d2" class="lg"/>
<rect x="513.8" y="45" width="6.5" height="6.5" fill="#cdf7ef" class="lg"/>
<text x="524.8" y="9.8" class="lg2">WT-Saline (n=11)</text>
<text x="524.8" y="24.8" class="lg2">WT-CFA (n=12)</text>
<text x="524.8" y="39.2" class="lg2"><tspan class="it">Cxcr5</tspan><tspan class="sup" dy="-5">-/-</tspan><tspan dy="5">-Saline (n=12)</tspan></text>
<text x="524.8" y="53.6" class="lg2"><tspan class="it">Cxcr5</tspan><tspan class="sup" dy="-5">-/-</tspan><tspan dy="5">-CFA (n=11)</tspan></text>
<text transform="translate(480.7,121) rotate(-90)" class="t" text-anchor="middle">Number of AP</text>
<line x1="518.65" y1="161.3" x2="518.65" y2="159.7" class="eb"/>
<line x1="517.05" y1="159.7" x2="520.25" y2="159.7" class="eb"/>
<rect x="513.4" y="161.3" width="10.5" height="24.55" fill="#ffffff" class="bar"/>
<line x1="529.15" y1="135.4" x2="529.15" y2="130.1" class="eb"/>
<line x1="527.55" y1="130.1" x2="530.75" y2="130.1" class="eb"/>
<rect x="523.9" y="135.4" width="10.5" height="50.45" fill="#ffff00" class="bar"/>
<line x1="539.65" y1="169.3" x2="539.65" y2="165.7" class="eb"/>
<line x1="538.05" y1="165.7" x2="541.25" y2="165.7" class="eb"/>
<rect x="534.4" y="169.3" width="10.5" height="16.55" fill="#1068c4" class="bar"/>
<line x1="550.15" y1="165" x2="550.15" y2="159.1" class="eb"/>
<line x1="548.55" y1="159.1" x2="551.75" y2="159.1" class="eb"/>
<rect x="544.9" y="165" width="10.5" height="20.85" fill="#c8f6fb" class="bar"/>
<line x1="576.15" y1="137.3" x2="576.15" y2="132.4" class="eb"/>
<line x1="574.55" y1="132.4" x2="577.75" y2="132.4" class="eb"/>
<rect x="570.9" y="137.3" width="10.5" height="48.55" fill="#ffffff" class="bar"/>
<line x1="586.65" y1="95.1" x2="586.65" y2="89.8" class="eb"/>
<line x1="585.05" y1="89.8" x2="588.25" y2="89.8" class="eb"/>
<rect x="581.4" y="95.1" width="10.5" height="90.75" fill="#ffff00" class="bar"/>
<line x1="597.15" y1="144.1" x2="597.15" y2="138.4" class="eb"/>
<line x1="595.55" y1="138.4" x2="598.75" y2="138.4" class="eb"/>
<rect x="591.9" y="144.1" width="10.5" height="41.75" fill="#1068c4" class="bar"/>
<line x1="607.65" y1="147.9" x2="607.65" y2="140.3" class="eb"/>
<line x1="606.05" y1="140.3" x2="609.25" y2="140.3" class="eb"/>
<rect x="602.4" y="147.9" width="10.5" height="37.95" fill="#c8f6fb" class="bar"/>
<line x1="633.75" y1="126.5" x2="633.75" y2="120.2" class="eb"/>
<line x1="632.15" y1="120.2" x2="635.35" y2="120.2" class="eb"/>
<rect x="628.5" y="126.5" width="10.5" height="59.35" fill="#ffffff" class="bar"/>
<line x1="644.25" y1="74" x2="644.25" y2="66.1" class="eb"/>
<line x1="642.65" y1="66.1" x2="645.85" y2="66.1" class="eb"/>
<rect x="639" y="74" width="10.5" height="111.85" fill="#ffff00" class="bar"/>
<line x1="654.75" y1="126.5" x2="654.75" y2="120.2" class="eb"/>
<line x1="653.15" y1="120.2" x2="656.35" y2="120.2" class="eb"/>
<rect x="649.5" y="126.5" width="10.5" height="59.35" fill="#1068c4" class="bar"/>
<line x1="665.25" y1="136.4" x2="665.25" y2="127.6" class="eb"/>
<line x1="663.65" y1="127.6" x2="666.85" y2="127.6" class="eb"/>
<rect x="660" y="136.4" width="10.5" height="49.45" fill="#c8f6fb" class="bar"/>
<path d="M506.15,57.1 L506.15,185.85 L683,185.85" class="ax"/>
<line x1="503.15" y1="185.8" x2="506.15" y2="185.8" class="ax"/>
<text x="501.25" y="190" text-anchor="end" class="t">0</text>
<line x1="503.15" y1="160.18" x2="506.15" y2="160.18" class="ax"/>
<text x="501.25" y="164.38" text-anchor="end" class="t">5</text>
<line x1="503.15" y1="134.56" x2="506.15" y2="134.56" class="ax"/>
<text x="501.25" y="138.76" text-anchor="end" class="t">10</text>
<line x1="503.15" y1="108.94" x2="506.15" y2="108.94" class="ax"/>
<text x="501.25" y="113.14" text-anchor="end" class="t">15</text>
<line x1="503.15" y1="83.32" x2="506.15" y2="83.32" class="ax"/>
<text x="501.25" y="87.52" text-anchor="end" class="t">20</text>
<line x1="503.15" y1="57.7" x2="506.15" y2="57.7" class="ax"/>
<text x="501.25" y="61.9" text-anchor="end" class="t">25</text>
<text x="535.1" y="200.3" class="xl" text-anchor="middle">100 pA</text>
<text x="595.9" y="200.3" class="xl" text-anchor="middle">200 pA</text>
<text x="653.5" y="200.3" class="xl" text-anchor="middle">300 pA</text>
<text x="529.4" y="131" class="ast" text-anchor="middle">**</text>
<text transform="translate(551.9,153.8) scale(1.04,1.02)" class="hs" text-anchor="middle">##</text>
<text x="587.3" y="90.2" class="ast" text-anchor="middle">***</text>
<text transform="translate(607.6,133.5) scale(1.04,1.02)" class="hs" text-anchor="middle">###</text>
<text x="646.8" y="67" class="ast" text-anchor="middle">***</text>
<text transform="translate(668.2,119.5) scale(1.04,1.02)" class="hs" text-anchor="middle">###</text>

<!-- Panel D -->
<text x="471.8" y="231.2" class="big">D</text>
<rect x="515.2" y="223.6" width="6.5" height="6.5" fill="#fff" class="lg"/>
<rect x="515.2" y="237" width="6.5" height="6.5" fill="#ffff00" class="lg"/>
<rect x="515.2" y="250" width="6.5" height="6.5" fill="#1463bc" class="lg"/>
<rect x="515.2" y="263.5" width="6.5" height="6.5" fill="#c8f6fb" class="lg"/>
<text x="526.6" y="230.6" class="lg2">WT-PBS (n=17)</text>
<text x="526.6" y="243.9" class="lg2">WT-CXCL13 (n=17)</text>
<text x="526.6" y="257.1" class="lg2"><tspan class="it">Cxcr5</tspan><tspan class="sup" dy="-5">-/-</tspan><tspan dy="5">-PBS (n=14)</tspan></text>
<text x="526.6" y="270.5" class="lg2"><tspan class="it">Cxcr5</tspan><tspan class="sup" dy="-5">-/-</tspan><tspan dy="5">-CXCL13 (n=13)</tspan></text>
<text transform="translate(486.3,337) rotate(-90)" class="t" text-anchor="middle">Number of AP</text>
<line x1="518.75" y1="382.6" x2="518.75" y2="379.6" class="eb"/>
<line x1="517.15" y1="379.6" x2="520.35" y2="379.6" class="eb"/>
<rect x="513.5" y="382.6" width="10.5" height="23.25" fill="#ffffff" class="bar"/>
<line x1="529.25" y1="352.3" x2="529.25" y2="348" class="eb"/>
<line x1="527.65" y1="348" x2="530.85" y2="348" class="eb"/>
<rect x="524" y="352.3" width="10.5" height="53.55" fill="#ffff00" class="bar"/>
<line x1="539.75" y1="391.3" x2="539.75" y2="388.3" class="eb"/>
<line x1="538.15" y1="388.3" x2="541.35" y2="388.3" class="eb"/>
<rect x="534.5" y="391.3" width="10.5" height="14.55" fill="#1068c4" class="bar"/>
<line x1="550.25" y1="382.1" x2="550.25" y2="376.6" class="eb"/>
<line x1="548.65" y1="376.6" x2="551.85" y2="376.6" class="eb"/>
<rect x="545" y="382.1" width="10.5" height="23.75" fill="#c8f6fb" class="bar"/>
<line x1="576.85" y1="351.7" x2="576.85" y2="345.8" class="eb"/>
<line x1="575.25" y1="345.8" x2="578.45" y2="345.8" class="eb"/>
<rect x="571.6" y="351.7" width="10.5" height="54.15" fill="#ffffff" class="bar"/>
<line x1="587.35" y1="319.3" x2="587.35" y2="315.1" class="eb"/>
<line x1="585.75" y1="315.1" x2="588.95" y2="315.1" class="eb"/>
<rect x="582.1" y="319.3" width="10.5" height="86.55" fill="#ffff00" class="bar"/>
<line x1="597.85" y1="361.6" x2="597.85" y2="354.9" class="eb"/>
<line x1="596.25" y1="354.9" x2="599.45" y2="354.9" class="eb"/>
<rect x="592.6" y="361.6" width="10.5" height="44.25" fill="#1068c4" class="bar"/>
<line x1="608.35" y1="347.3" x2="608.35" y2="340.1" class="eb"/>
<line x1="606.75" y1="340.1" x2="609.95" y2="340.1" class="eb"/>
<rect x="603.1" y="347.3" width="10.5" height="58.55" fill="#c8f6fb" class="bar"/>
<line x1="634.75" y1="332.2" x2="634.75" y2="325.7" class="eb"/>
<line x1="633.15" y1="325.7" x2="636.35" y2="325.7" class="eb"/>
<rect x="629.5" y="332.2" width="10.5" height="73.65" fill="#ffffff" class="bar"/>
<line x1="645.25" y1="300.3" x2="645.25" y2="292.9" class="eb"/>
<line x1="643.65" y1="292.9" x2="646.85" y2="292.9" class="eb"/>
<rect x="640" y="300.3" width="10.5" height="105.55" fill="#ffff00" class="bar"/>
<line x1="655.75" y1="327.3" x2="655.75" y2="315.8" class="eb"/>
<line x1="654.15" y1="315.8" x2="657.35" y2="315.8" class="eb"/>
<rect x="650.5" y="327.3" width="10.5" height="78.55" fill="#1068c4" class="bar"/>
<line x1="666.25" y1="329.9" x2="666.25" y2="321.9" class="eb"/>
<line x1="664.65" y1="321.9" x2="667.85" y2="321.9" class="eb"/>
<rect x="661" y="329.9" width="10.5" height="75.95" fill="#c8f6fb" class="bar"/>
<path d="M505.85,267.2 L505.85,405.85 L682,405.85" class="ax"/>
<line x1="502.85" y1="405.2" x2="505.85" y2="405.2" class="ax"/>
<text x="501.15" y="410.1" text-anchor="end" class="t" style="font-size:10px">0</text>
<line x1="502.85" y1="370.85" x2="505.85" y2="370.85" class="ax"/>
<text x="501.15" y="375.75" text-anchor="end" class="t" style="font-size:10px">5</text>
<line x1="502.85" y1="336.5" x2="505.85" y2="336.5" class="ax"/>
<text x="501.15" y="341.4" text-anchor="end" class="t" style="font-size:10px">10</text>
<line x1="502.85" y1="302.15" x2="505.85" y2="302.15" class="ax"/>
<text x="501.15" y="307.05" text-anchor="end" class="t" style="font-size:10px">15</text>
<line x1="502.85" y1="267.8" x2="505.85" y2="267.8" class="ax"/>
<text x="501.15" y="272.7" text-anchor="end" class="t" style="font-size:10px">20</text>
<text x="533.5" y="419.6" class="xl" text-anchor="middle">100 pA</text>
<text x="594.8" y="419.6" class="xl" text-anchor="middle">200 pA</text>
<text x="652.2" y="419.6" class="xl" text-anchor="middle">300 pA</text>
<text x="529.1" y="349.4" class="ast" style="font-size:17px" text-anchor="middle">***</text>
<text transform="translate(552.1,372.6) scale(1.04,1.02)" class="hs" text-anchor="middle">###</text>
<text x="587.4" y="316.5" class="ast" style="font-size:17px" text-anchor="middle">***</text>
<text transform="translate(611.3,334.1) scale(1.04,1.02)" class="hs" text-anchor="middle">##</text>
<text x="647" y="296" class="ast" style="font-size:17px" text-anchor="middle">**</text>
<text transform="translate(668.3,315.4) scale(1.04,1.02)" class="hs" text-anchor="middle">#</text>
</svg>
</body>
</html>
